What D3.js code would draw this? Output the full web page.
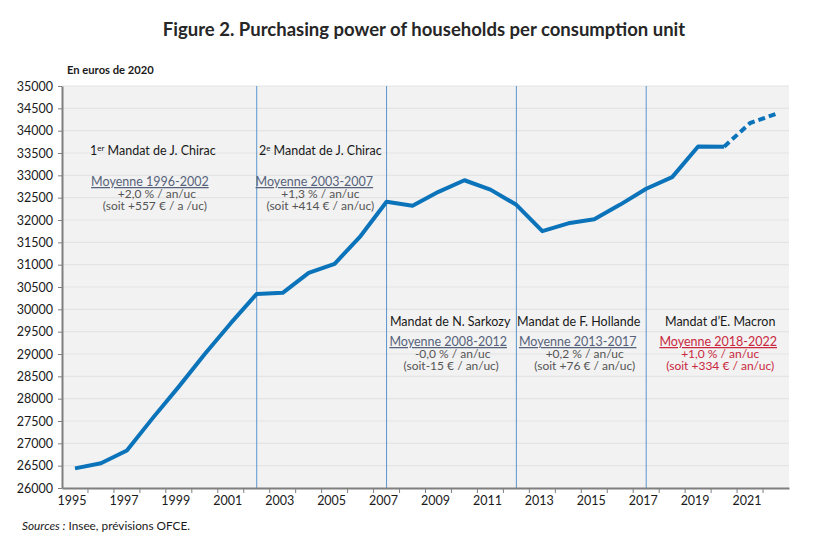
<!DOCTYPE html>
<html>
<head>
<meta charset="utf-8">
<script src="https://cdn.jsdelivr.net/npm/d3@7"></script>
<style>
  body { margin: 0; background: #fff; }
  svg text { font-family: Lato, "Noto Sans", sans-serif; }
</style>
</head>
<body>
<svg id="drawing_region"></svg>
<script>
// annual values, euros de 2020 per uc (2021-2022 = forecast)
const years = d3.range(1995, 2023);
const values = [26440, 26555, 26840, 27570, 28270, 29000, 29690, 30345, 30370,
                30815, 31020, 31640, 32410, 32320, 32630, 32890, 32680, 32340,
                31750, 31925, 32015, 32345, 32700, 32960, 33645, 33640, 34170, 34375];
const forecastFrom = 2020;
const yTicks = d3.range(26000, 35001, 500);
const xLabels = d3.range(1995, 2022, 2);
const mandateBreaks = [2002, 2007, 2012, 2017];

const mandates = [
  {year: 1998.0, row: 0, title: ["1", "er", " Mandat de J. Chirac"], avg: "Moyenne 1996-2002", pct: "+2,0 % / an/uc", eur: "(soit +557 € / a /uc)", red: false},
  {year: 2004.45, row: 0, title: ["2", "e", " Mandat de J. Chirac"], avg: "Moyenne 2003-2007", pct: "+1,3 % / an/uc", eur: "(soit +414 € / an/uc)", red: false},
  {year: 2009.45, row: 1, title: ["", "", "Mandat de N. Sarkozy"], avg: "Moyenne 2008-2012", pct: "-0,0 % / an/uc", eur: "(soit-15 € / an/uc)", red: false},
  {year: 2014.4, row: 1, title: ["", "", "Mandat de F. Hollande"], avg: "Moyenne 2013-2017", pct: "+0,2 % / an/uc", eur: "(soit +76 € / an/uc)", red: false},
  {year: 2019.85, row: 1, title: ["", "", "Mandat d\u2019E. Macron"], avg: "Moyenne 2018-2022", pct: "+1,0 % / an/uc", eur: "(soit +334 € / an/uc)", red: true}
];
// small horizontal nudges of the three sub-lines, as in the original layout
const lineShift = [[-3, 4, 2], [-6, 0, 0], [-2, 2.5, 1], [-1, 6, 6], [-2, 0, 0]];

const data = years.map((y, i) => ({year: y, value: values[i]}));

const config = {
  width: 833,
  height: 550,
  margin: {top: 86, right: 44, bottom: 62, left: 62}
};

const svg = d3.select('#drawing_region')
  .attr('width', config.width)
  .attr('height', config.height);

const inner_width = config.width - config.margin.left - config.margin.right;
const inner_height = config.height - config.margin.top - config.margin.bottom;

const chart = svg.append('g')
  .attr('transform', `translate(${config.margin.left}, ${config.margin.top})`);

const xscale = d3.scaleBand()
  .domain(years)
  .range([0, inner_width]);
const xc = y => xscale(y) + xscale.bandwidth() / 2;

const yscale = d3.scaleLinear()
  .domain([26000, 35000])
  .range([inner_height, 0]);

// background + grid
chart.append('rect')
  .attr('x', 0).attr('y', 0)
  .attr('width', inner_width).attr('height', inner_height)
  .attr('fill', '#f2f2f2');

chart.append('g')
  .selectAll('line')
  .data(yTicks.slice(1))
  .join('line')
  .attr('x1', 0).attr('x2', inner_width)
  .attr('y1', d => yscale(d)).attr('y2', d => yscale(d))
  .attr('stroke', '#e4e4e4')
  .attr('stroke-width', 1.2);

// mandate separators
chart.append('g')
  .selectAll('line')
  .data(mandateBreaks)
  .join('line')
  .attr('x1', d => xc(d)).attr('x2', d => xc(d))
  .attr('y1', 0).attr('y2', inner_height)
  .attr('stroke', '#5b95cf')
  .attr('stroke-width', 1);

// axes
const yaxis = d3.axisLeft(yscale).tickValues(yTicks).tickSize(4).tickFormat(d3.format('d')).tickSizeOuter(0);
const yaxis_group = chart.append('g').call(yaxis);
yaxis_group.select('.domain').attr('stroke', '#7f7f7f').attr('stroke-width', 2);
yaxis_group.selectAll('.tick line').attr('stroke', '#7f7f7f');
yaxis_group.selectAll('.tick text')
  .attr('x', -9)
  .attr('font-size', 12.5)
  .attr('fill', '#1a1a1a');

const xaxis = d3.axisBottom(xscale).tickValues([]).tickSizeOuter(0);
const xaxis_group = chart.append('g')
  .attr('transform', `translate(0, ${inner_height})`)
  .call(xaxis);
xaxis_group.select('.domain').attr('stroke', '#7f7f7f').attr('stroke-width', 2);

// ticks at band boundaries
xaxis_group.selectAll('.btick')
  .data(years.slice(1))
  .join('line')
  .attr('class', 'btick')
  .attr('x1', d => xscale(d)).attr('x2', d => xscale(d))
  .attr('y1', 0).attr('y2', 5)
  .attr('stroke', '#7f7f7f');

xaxis_group.selectAll('.xlab')
  .data(xLabels)
  .join('text')
  .attr('class', 'xlab')
  .attr('x', d => xc(d) - 3)
  .attr('y', 17)
  .attr('text-anchor', 'middle')
  .attr('font-size', 12.5)
  .attr('fill', '#1a1a1a')
  .text(d => d);

// line
const line = d3.line()
  .x(d => xc(d.year))
  .y(d => yscale(d.value));

chart.append('path')
  .attr('d', line(data.filter(d => d.year <= forecastFrom)))
  .attr('fill', 'none')
  .attr('stroke', '#0b73b9')
  .attr('stroke-width', 4)
  .attr('stroke-linejoin', 'round');

chart.append('path')
  .attr('d', line(data.filter(d => d.year >= forecastFrom)))
  .attr('fill', 'none')
  .attr('stroke', '#0b73b9')
  .attr('stroke-width', 4)
  .attr('stroke-dasharray', '7,4');

// annotations
const rowY = [69, 240];
const rowGap = [31, 20];
mandates.forEach((m, i) => {
  const cx = xc(Math.floor(m.year)) + (m.year % 1) * xscale.bandwidth();
  const y0 = rowY[m.row];
  const sh = lineShift[i];
  const g = chart.append('g').attr('font-size', 12).attr('text-anchor', 'middle');
  const t = g.append('text').attr('x', cx).attr('y', y0).attr('fill', '#1a1a1a').attr('font-size', 12.5);
  if (m.title[0]) {
    t.append('tspan').text(m.title[0]);
    t.append('tspan').attr('font-size', 8).attr('dy', -4).text(m.title[1]);
    t.append('tspan').attr('dy', 4).text(m.title[2]);
  } else {
    t.text(m.title[2]);
  }
  const col = m.red ? '#c9283e' : '#555';
  const dy = rowGap[m.row];
  g.append('text').attr('x', cx + sh[0]).attr('y', y0 + dy)
    .attr('fill', m.red ? col : '#56627a')
    .attr('text-decoration', 'underline')
    .attr('font-size', 12.5)
    .text(m.avg);
  g.append('text').attr('x', cx + sh[1]).attr('y', y0 + dy + 12).attr('fill', col).text(m.pct);
  g.append('text').attr('x', cx + sh[2]).attr('y', y0 + dy + 24).attr('fill', col).text(m.eur);
});

// titles
svg.append('text')
  .attr('x', 424).attr('y', 36)
  .attr('text-anchor', 'middle')
  .attr('font-size', 18.5)
  .attr('font-weight', 'bold')
  .attr('fill', '#262626')
  .text('Figure 2. Purchasing power of households per consumption unit');

svg.append('text')
  .attr('x', 67).attr('y', 74)
  .attr('font-size', 11.2)
  .attr('font-weight', 'bold')
  .attr('fill', '#1a1a1a')
  .text('En euros de 2020');

const src = svg.append('text')
  .attr('x', 22).attr('y', 530)
  .attr('font-size', 11.8)
  .attr('fill', '#1a1a1a');
src.append('tspan').attr('font-style', 'italic').text('Sources :');
src.append('tspan').text(' Insee, prévisions OFCE.');
</script>
</body>
</html>
